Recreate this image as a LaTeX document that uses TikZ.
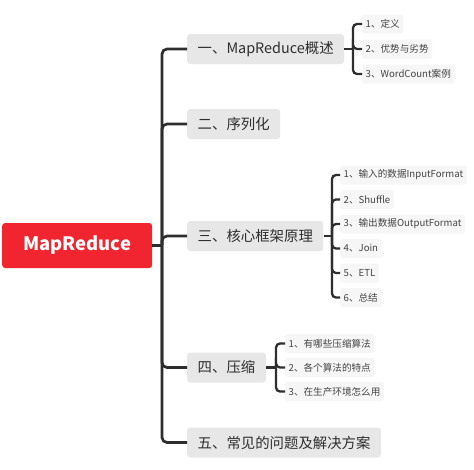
\documentclass[tikz,border=0pt]{standalone}
\usepackage{fontspec}
\setmainfont{Noto Sans CJK SC}
\definecolor{rootred}{HTML}{F0252F}
\definecolor{topicgray}{HTML}{E7E7E7}
\definecolor{subgray}{HTML}{F6F6F6}
\definecolor{linegray}{HTML}{2E2E2E}
\begin{document}
\begin{tikzpicture}[x=1pt,y=-1pt]
  \tikzset{
    root/.style={fill=rootred, text=white, rounded corners=3pt, font=\fontsize{18.5}{20}\selectfont\bfseries,
      minimum width=150pt, minimum height=45pt, anchor=west},
    topic/.style={fill=topicgray, text=linegray, rounded corners=3pt, font=\fontsize{14.4}{16}\selectfont,
      minimum height=30pt, inner xsep=10.5pt, anchor=west},
    subtopic/.style={fill=subgray, text=linegray!90, rounded corners=2pt, font=\fontsize{9.6}{11}\selectfont,
      minimum height=19pt, inner xsep=3.5pt, anchor=west},
    branch/.style={draw=linegray, line width=2.7pt, rounded corners=5pt},
    twig/.style={draw=linegray, line width=2.3pt, rounded corners=4pt}
  }
  \useasboundingbox (0,0) rectangle (474,469);

  % Root
  \node[root] (mr) at (2,245.5) {MapReduce};
  \coordinate (trunk) at (162,245.5);

  % Main topics
  \node[topic] (t1) at (187,49) {一、MapReduce概述};
  \node[topic] (t2) at (187,124) {二、序列化};
  \node[topic] (t3) at (187,236) {三、核心框架原理};
  \node[topic] (t4) at (187,367.5) {四、压缩};
  \node[topic] (t5) at (187,442.5) {五、常见的问题及解决方案};

  \draw[branch] (mr.east) -- (trunk);
  \foreach \t in {t1,t2,t3,t4,t5}
    \draw[branch] (trunk) |- (\t.west);

  % Topic 1
  \node[subtopic] (a1) at (362,24) {1、定义};
  \node[subtopic] (a2) at (362,49) {2、优势与劣势};
  \node[subtopic] (a3) at (362,74) {3、WordCount案例};
  \coordinate (ja) at (353,49);
  \draw[twig] (t1.east) -- (ja);
  \foreach \s in {a1,a2,a3}
    \draw[twig] (ja) |- (\s.west);

  % Topic 3
  \node[subtopic] (c1) at (340,175) {1、输入的数据InputFormat};
  \node[subtopic] (c2) at (340,199.5) {2、Shuffle};
  \node[subtopic] (c3) at (340,224) {3、输出数据OutputFormat};
  \node[subtopic] (c4) at (340,248.5) {4、Join};
  \node[subtopic] (c5) at (340,273) {5、ETL};
  \node[subtopic] (c6) at (340,297.5) {6、总结};
  \coordinate (jc) at (332,236);
  \draw[twig] (t3.east) -- (jc);
  \foreach \s in {c1,c2,c3,c4,c5,c6}
    \draw[twig] (jc) |- (\s.west);

  % Topic 4
  \node[subtopic] (d1) at (285,343.5) {1、有哪些压缩算法};
  \node[subtopic] (d2) at (285,367.5) {2、各个算法的特点};
  \node[subtopic] (d3) at (285,391.5) {3、在生产环境怎么用};
  \coordinate (jd) at (276,367.5);
  \draw[twig] (t4.east) -- (jd);
  \foreach \s in {d1,d2,d3}
    \draw[twig] (jd) |- (\s.west);
\end{tikzpicture}
\end{document}
